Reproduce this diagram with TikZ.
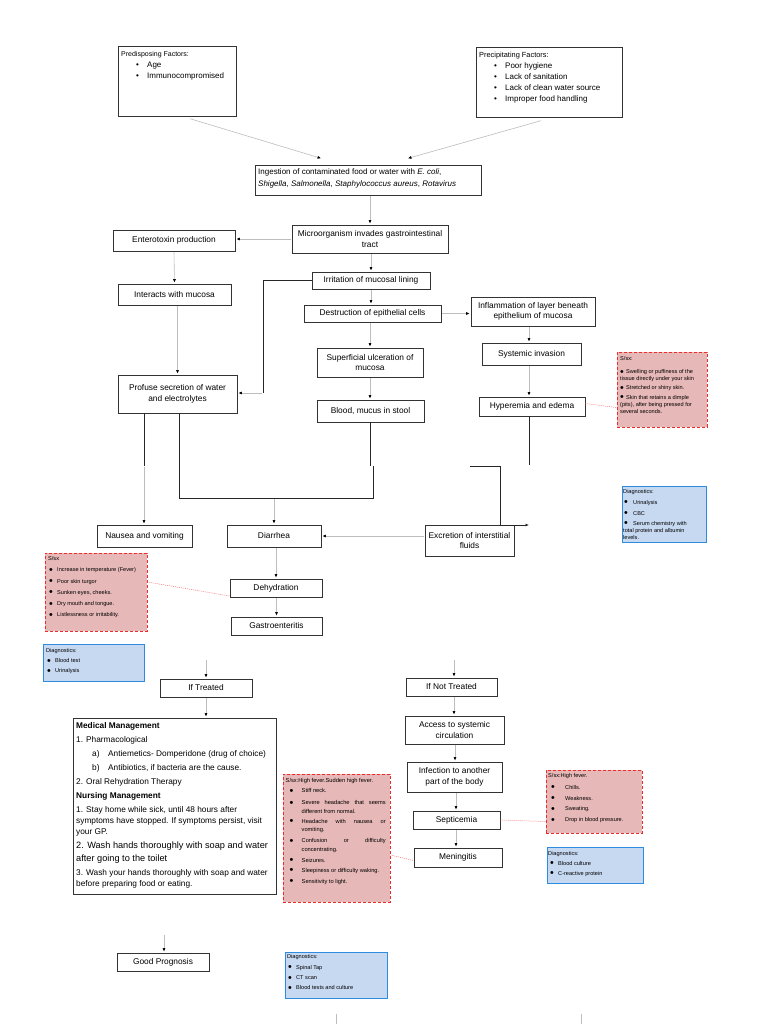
\documentclass[tikz,border=0pt]{standalone}
\usepackage{fontspec}
\usepackage{graphicx}
\setmainfont{Liberation Sans}
\usetikzlibrary{arrows.meta,calc}
\definecolor{pinkc}{HTML}{E6B8B7}
\definecolor{redb}{HTML}{EE2B2B}
\definecolor{bluec}{HTML}{C6D9F1}
\definecolor{blueb}{HTML}{2D8BE0}
\definecolor{conng}{HTML}{BDBDBD}
\newcommand\fsz[2]{\fontsize{#1}{#2}\selectfont}
\newcommand\bb[1]{\makebox[#1][l]{\raisebox{-1.5pt}{\scalebox{1.9}{\textbullet}}}}
\newcommand\jl[1]{\makebox[84pt][s]{#1}}
\begin{document}
\begin{tikzpicture}[x=1pt,y=-1pt,
  box/.style={draw=black!80, line width=0.8pt, fill=white, inner sep=0pt, align=center, font=\fsz{8.35}{10.5}},
  txt/.style={inner sep=0pt, anchor=north west, align=left},
  conn/.style={draw=conng, line width=0.6pt, shorten <=1pt, shorten >=1pt, -{Latex[length=3.5pt,width=3pt,color=black]}},
  blk/.style={draw=black!85, line width=0.9pt},
  sxbox/.style={draw=redb, dash pattern=on 3pt off 2pt, line width=0.9pt, fill=pinkc, inner sep=0pt},
  dxbox/.style={draw=blueb, line width=0.9pt, fill=bluec, inner sep=0pt},
  small/.style={txt, font=\fsz{5.6}{7}},
  rdot/.style={draw=redb!70, dash pattern=on 1pt off 1pt, line width=0.5pt}]
\useasboundingbox[fill=white] (0,0) rectangle (768,1024);

% ---------- top boxes
\node[box,minimum width=118pt,minimum height=70pt] (pre) at (177,81) {};
\node[txt,font=\fsz{8}{11}] (pret) at (121,51) {{\fsz{7}{11}Predisposing Factors:}\\
 \hspace*{15pt}\makebox[11pt][l]{\textbullet}Age\\
 \hspace*{15pt}\makebox[11pt][l]{\textbullet}Immunocompromised};
\node[box,minimum width=146pt,minimum height=70pt] (prc) at (549,82) {};
\node[txt,font=\fsz{8}{11}] (prct) at (479,52) {{\fsz{7.4}{11}Precipitating Factors:}\\
 \hspace*{15pt}\makebox[11pt][l]{\textbullet}Poor hygiene\\
 \hspace*{15pt}\makebox[11pt][l]{\textbullet}Lack of sanitation\\
 \hspace*{15pt}\makebox[11pt][l]{\textbullet}Lack of clean water source\\
 \hspace*{15pt}\makebox[11pt][l]{\textbullet}Improper food handling};
\node[box,minimum width=226pt,minimum height=30pt] (ing) at (368,180) {};
\node[txt,font=\fsz{8}{11.5}] (ingt) at (258,169) {Ingestion of contaminated food or water with \textit{E. coli},\\
 \textit{Shigella}, \textit{Salmonella}, \textit{Staphylococcus aureus}, \textit{Rotavirus}};

% ---------- main chain
\node[box,minimum width=156pt,minimum height=28pt] (mic) at (370,239) {Microorganism invades gastrointestinal\\tract};
\node[box,minimum width=122pt,minimum height=21pt] (ent) at (174,240.5) {Enterotoxin production};
\node[box,minimum width=113pt,minimum height=21pt] (int) at (174.5,294.5) {Interacts with mucosa};
\node[box,minimum width=118pt,minimum height=17pt] (irr) at (371,280.5) {Irritation of mucosal lining};
\node[box,minimum width=119pt,minimum height=38pt] (pro) at (177.5,394) {Profuse secretion of water\\and electrolytes};
\node[box,minimum width=137pt,minimum height=17pt] (des) at (372.5,313.5) {Destruction of epithelial cells};
\node[box,minimum width=106pt,minimum height=29pt] (sup) at (370,362.5) {Superficial ulceration of\\mucosa};
\node[box,minimum width=107pt,minimum height=22pt] (blo) at (370.5,411) {Blood, mucus in stool};
\node[box,minimum width=124pt,minimum height=29pt] (inf) at (533,311.5) {Inflammation of layer beneath\\epithelium of mucosa};
\node[box,minimum width=99pt,minimum height=22pt] (sys) at (531.5,354) {Systemic invasion};
\node[box,minimum width=106pt,minimum height=19pt] (hyp) at (532,406.5) {Hyperemia and edema};
\node[box,minimum width=95pt,minimum height=22pt] (nau) at (144.5,536) {Nausea and vomiting};
\node[box,minimum width=94pt,minimum height=22pt] (dia) at (274,536) {Diarrhea};
\node[box,minimum width=89pt,minimum height=31pt] (exc) at (469.5,540.5) {Excretion of interstitial\\fluids};
\node[box,minimum width=92pt,minimum height=18pt] (deh) at (276,588) {Dehydration};
\node[box,minimum width=91pt,minimum height=18pt] (gas) at (276.5,626) {Gastroenteritis};
\node[box,minimum width=92pt,minimum height=18pt] (ift) at (206,688) {If Treated};
\node[box,minimum width=91pt,minimum height=18pt] (ifn) at (451.5,687) {If Not Treated};
\node[box,minimum width=99pt,minimum height=28pt] (acc) at (454.5,730) {Access to systemic\\circulation};
\node[box,minimum width=95pt,minimum height=30pt] (inb) at (454.5,777) {Infection to another\\part of the body};
\node[box,minimum width=87pt,minimum height=18pt] (sep) at (456.5,820) {Septicemia};
\node[box,minimum width=88pt,minimum height=19pt] (men) at (458,857.5) {Meningitis};
\node[box,minimum width=92pt,minimum height=18pt] (goo) at (163,962) {Good Prognosis};

% ---------- management box
\node[box,minimum width=203pt,minimum height=176pt] (med) at (174.5,806) {};
\node[txt,font=\fsz{8.3}{11}] (medt) at (76,722) {\textbf{Medical Management}\\[3.5pt]
1. Pharmacological\\[3pt]
\hspace*{16pt}\makebox[16pt][l]{a)}Antiemetics- Domperidone (drug of choice)\\[3pt]
\hspace*{16pt}\makebox[16pt][l]{b)}Antibiotics, if bacteria are the cause.\\[3pt]
2. Oral Rehydration Therapy\\[3pt]
\textbf{Nursing Management}\\[3pt]
1. Stay home while sick, until 48 hours after\\
symptoms have stopped. If symptoms persist, visit\\
your GP.\\[3pt]
{\fsz{9.2}{11}2. Wash hands thoroughly with soap and water}\\[2pt]
{\fsz{9.2}{11}after going to the toilet}\\[3pt]
3. Wash your hands thoroughly with soap and water\\
before preparing food or eating.};

% ---------- S/sx boxes
\node[sxbox,minimum width=90pt,minimum height=75pt] (sx1) at (662,389.5) {};
\node[small] (sx1t) at (620,356) {S/sx:\\[6.5pt]
\bb{6pt}Swelling or puffiness of the\\
tissue directly under your skin\\[2pt]
\bb{6pt}Stretched or shiny skin.\\[2.7pt]
\bb{6pt}Skin that retains a dimple\\
(pits), after being pressed for\\
several seconds.};
\node[sxbox,minimum width=102pt,minimum height=78pt] (sx2) at (96,592) {};
\node[small] (sx2t) at (48,556.5) {S/sx\\[4.2pt]
\hspace*{1pt}\bb{8pt}Increase in temperature (Fever)\\[4.2pt]
\hspace*{1pt}\bb{8pt}Poor skin turgor\\[4.2pt]
\hspace*{1pt}\bb{8pt}Sunken eyes, cheeks.\\[4.2pt]
\hspace*{1pt}\bb{8pt}Dry mouth and tongue.\\[4.2pt]
\hspace*{1pt}\bb{8pt}Listlessness or irritability.};
\node[sxbox,minimum width=107pt,minimum height=128pt] (sx3) at (336.5,838) {};
\node[small,font=\fsz{5.7}{8.5}] (sx3t) at (285.5,778.5) {S/sx:High fever.Sudden high fever.\\[1.5pt]
\hspace*{4pt}\bb{12pt}Stiff neck.\\[3.5pt]
\hspace*{4pt}\bb{12pt}\jl{Severe headache that seems}\\
\hspace*{16pt}different from normal.\\[1.5pt]
\hspace*{4pt}\bb{12pt}\jl{Headache with nausea or}\\
\hspace*{16pt}vomiting.\\[2.5pt]
\hspace*{4pt}\bb{12pt}\jl{Confusion or difficulty}\\
\hspace*{16pt}concentrating.\\[2.5pt]
\hspace*{4pt}\bb{12pt}Seizures.\\[1.5pt]
\hspace*{4pt}\bb{12pt}Sleepiness or difficulty waking.\\[2.5pt]
\hspace*{4pt}\bb{12pt}Sensitivity to light.};
\node[sxbox,minimum width=96pt,minimum height=63pt] (sx4) at (594,801.5) {};
\node[small] (sx4t) at (548,773.5) {S/sx:High fever.\\[4.5pt]
\hspace*{3pt}\bb{14pt}Chills.\\[4pt]
\hspace*{3pt}\bb{14pt}Weakness.\\[3.5pt]
\hspace*{3pt}\bb{14pt}Sweating.\\[4pt]
\hspace*{3pt}\bb{14pt}Drop in blood pressure.};

% ---------- diagnostics boxes
\node[dxbox,minimum width=84pt,minimum height=56pt] (dx1) at (664,514) {};
\node[small] (dx1t) at (623,489.5) {Diagnostics:\\[3.3pt]
\hspace*{1pt}\bb{9pt}Urinalysis\\[4pt]
\hspace*{1pt}\bb{9pt}CBC\\[3.3pt]
\hspace*{1pt}\bb{9pt}Serum chemistry with\\
total protein and albumin\\
levels.};
\node[dxbox,minimum width=101pt,minimum height=37pt] (dx2) at (93.5,662.5) {};
\node[small] (dx2t) at (46,648.5) {Diagnostics:\\[3pt]
\hspace*{1pt}\bb{8pt}Blood test\\[3pt]
\hspace*{1pt}\bb{8pt}Urinalysis};
\node[dxbox,minimum width=96pt,minimum height=36pt] (dx3) at (595,865) {};
\node[small] (dx3t) at (548,851.5) {Diagnostics:\\[2.5pt]
\hspace*{2pt}\bb{8pt}Blood culture\\[3pt]
\hspace*{2pt}\bb{8pt}C-reactive protein};
\node[dxbox,minimum width=102pt,minimum height=46pt] (dx4) at (336,975) {};
\node[small] (dx4t) at (287,954.5) {Diagnostics:\\[3.3pt]
\hspace*{1pt}\bb{8pt}Spinal Tap\\[3.6pt]
\hspace*{1pt}\bb{8pt}CT scan\\[3.3pt]
\hspace*{1pt}\bb{8pt}Blood tests and culture};

% ---------- connectors
\draw[conn] ($(pre.south)+(12,2)$) -- ($(ing.north)+(-46,-6)$);
\draw[conn] ($(prc.south)+(-7,3)$) -- ($(ing.north)+(39,-6)$);
\draw[conn] (ing.south -| mic.north) -- (mic.north);
\draw[conn] (mic.west) -- (mic.west -| ent.east);
\draw[conn] (ent.south) -- (int.north);
\draw[conn] (mic.south -| irr.north) -- (irr.north);
\coordinate (r1) at (263,393);
\draw[blk] (irr.west) -| (r1);
\draw[conn] (r1) -- (r1 -| pro.east);
\draw[conn] (int.south -| pro.north) -- (pro.north);
\draw[conn] (irr.south) -- (irr.south |- des.north);
\draw[conn] (des.east) -- (des.east -| inf.west);
\draw[conn] (des.south -| sup.north) -- (sup.north);
\draw[conn] (sup.south) -- (blo.north -| sup.south);
\coordinate (j1) at (373,498);
\coordinate (j2) at (179,498);
\draw[blk] (blo.south) -- (blo.south |- 0,466);
\draw[blk] (373,466) -- (j1) -- (j2) -- (j2 |- pro.south);
\coordinate (n1) at (144,466);
\draw[blk] (n1 |- pro.south) -- (n1);
\draw[conn] (n1) -- (n1 |- nau.north);
\draw[conn] (j1 -| dia.north) -- (dia.north);
\draw[conn] (exc.west |- dia.east) -- (dia.east);
\draw[conn] (inf.south -| 529,0) -- (sys.north -| 529,0);
\draw[conn] (sys.south -| 529,0) -- (hyp.north -| 529,0);
\draw[blk] (hyp.south -| 529,0) -- (529,465);
\coordinate (e1) at (470,466);
\coordinate (e2) at (500,525);
\draw[blk, -{Latex[length=3.5pt,width=3pt]}] (e1) -| (e2) -- ++(29,0);
\draw[rdot] ($(hyp.east)+(0,-3)$) -- ($(sx1.west)+(0,18)$);
\draw[conn] (dia.south -| deh.north) -- (deh.north);
\draw[conn] (deh.south -| gas.north) -- (gas.north);
\draw[rdot] ($(sx2.east)+(0,-10)$) -- ($(deh.west)+(0,8)$);
\coordinate (t0) at (206,659);
\draw[conn] (t0) -- (ift.north);
\coordinate (u0) at (454,659);
\draw[conn] (u0) -- (u0 |- ifn.north);
\draw[conn] (ift.south) -- (ift.south |- med.north);
\draw[conn] (ifn.south -| 454,0) -- (acc.north -| 454,0);
\draw[conn] (acc.south -| 455,0) -- (inb.north -| 455,0);
\draw[conn] (inb.south -| 456,0) -- (sep.north -| 456,0);
\draw[conn] (sep.south -| 456,0) -- (men.north -| 456,0);
\draw[rdot] (sep.east) -- ($(sx4.west)+(0,20)$);
\draw[rdot] ($(sx3.east)+(0,17)$) -- ($(men.west)+(0,3)$);
\coordinate (g0) at (164,934);
\draw[conn] (g0) -- (g0 |- goo.north);
\draw[draw=conng, line width=0.6pt] (336,1014) -- (336,1024);
\draw[draw=conng, line width=0.6pt] (581,1014) -- (581,1024);
\end{tikzpicture}
\end{document}
